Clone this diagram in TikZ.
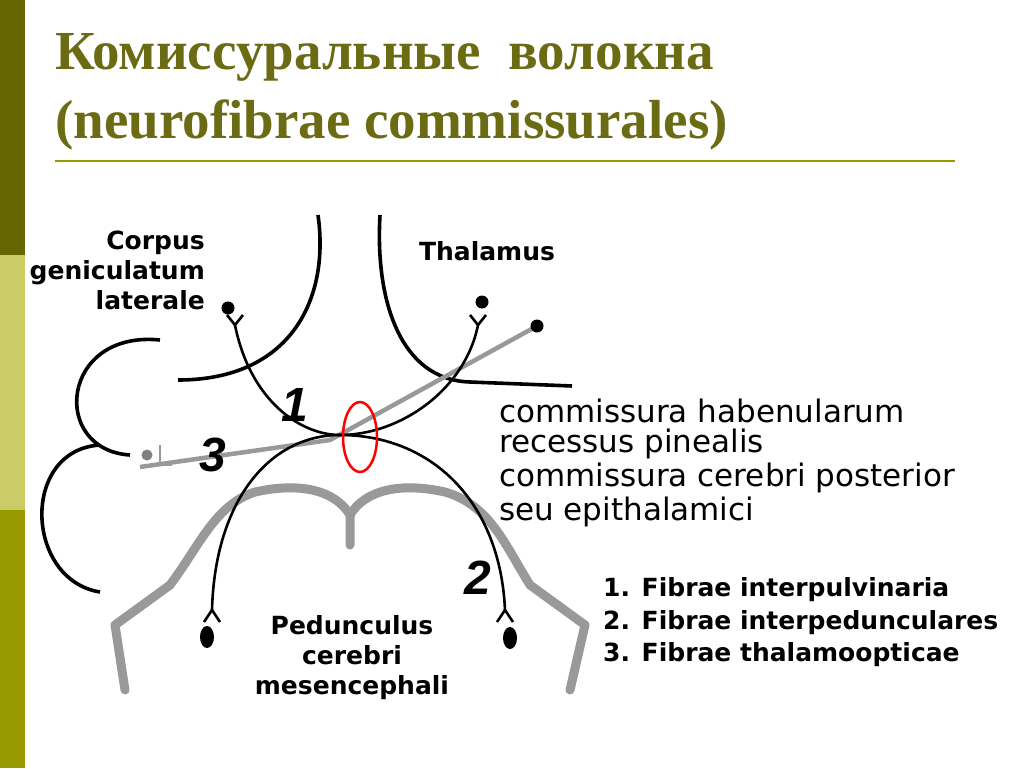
\documentclass[tikz,border=0pt]{standalone}
\usepackage{fontspec}
\usetikzlibrary{shapes.geometric}
\setmainfont{Liberation Serif}
\newfontfamily\lab{DejaVu Sans}
\newfontfamily\num{Liberation Sans}
\definecolor{olive}{HTML}{666600}
\definecolor{oliveB}{HTML}{999900}
\definecolor{oliveC}{HTML}{CCCC66}
\definecolor{titlec}{HTML}{6B6B14}
\definecolor{fgray}{HTML}{999999}
\tikzset{
 lbl/.style={font=\lab\bfseries\fontsize{25}{30}\selectfont, inner sep=0pt},
 txt/.style={font=\lab\fontsize{31}{34}\selectfont, anchor=west, inner sep=0pt},
 lst/.style={font=\lab\bfseries\fontsize{25}{30}\selectfont, anchor=west, inner sep=0pt},
 nmb/.style={font=\num\bfseries\itshape\fontsize{48}{48}\selectfont, inner sep=0pt},
 ttl/.style={anchor=west, text=titlec, font=\bfseries\fontsize{55}{60}\selectfont, inner sep=0pt},
 fib/.style={black, line width=2.6pt},
 arcb/.style={black, line width=3.6pt},
 grayf/.style={fgray, line width=9pt, line join=round, line cap=round},
 dot/.style={circle, fill=black, inner sep=0pt, minimum size=13pt}
}
\begin{document}
\begin{tikzpicture}[x=1pt,y=-1pt]
\useasboundingbox (0,0) rectangle (1024,768);
\fill[olive] (0,0) rectangle (25,255);
\fill[oliveC] (0,255) rectangle (25,510);
\fill[oliveB] (0,510) rectangle (25,768);
\node[ttl] (t1) at (55,57) {Комиссуральные\ \ волокна};
\node[ttl] (t2) at (55,125) {(neurofibrae commissurales)};
\draw[oliveB, line width=2pt] (55,161) -- (955,161);

% gray pedunculus outline
\draw[grayf] (125,690) -- (115,625) -- (170,585) .. controls (200,545) and (215,505) .. (255,492)
  .. controls (300,482) and (335,490) .. (350,515) -- (350,545);
\draw[grayf] (350,515) .. controls (365,490) and (400,482) .. (445,492)
  .. controls (490,505) and (505,545) .. (530,585) -- (585,625) -- (570,690);
% thalamus arcs
\draw[arcb] (318,215) .. controls (330,300) and (290,380) .. (178,380);
\draw[arcb] (380,215) .. controls (375,300) and (400,380) .. (470,382) -- (572,386);
% C shapes
\draw[arcb] (160,340) .. controls (60,330) and (50,450) .. (130,455);
\draw[arcb] (100,445) .. controls (20,450) and (25,580) .. (100,592);
% fibre 3
\draw[fgray, line width=4.5pt] (140,467) -- (330,440) -- (537,326);
\node[dot] (d3) at (537,326) {};
\node[circle, fill=gray, inner sep=0pt, minimum size=11pt] (d3b) at (147,455) {};
\draw[fgray, line width=2pt] (160,445) -- (160,465) (160,465) -- (172,465);
% fibre 1
\draw[fib] (235,325) .. controls (250,400) and (300,435) .. (340,435) .. controls (400,435) and (465,390) .. (478,325);
\draw[fib] (227,315) -- (235,325) -- (243,315);
\draw[fib] (470,315) -- (478,325) -- (486,315);
\node[dot] (d1a) at (228,308) {};
\node[dot] (d1b) at (482,302) {};
% fibre 2
\draw[fib] (212,610) .. controls (215,500) and (270,435) .. (340,435) .. controls (430,435) and (500,500) .. (505,610);
\draw[fib] (204,622) -- (212,610) -- (220,622);
\draw[fib] (497,622) -- (505,610) -- (513,622);
\node[ellipse, fill=black, inner sep=0pt, minimum width=14pt, minimum height=22pt] (d2a) at (207,637) {};
\node[ellipse, fill=black, inner sep=0pt, minimum width=14pt, minimum height=22pt] (d2b) at (510,638) {};
% red ellipse
\draw[red, line width=2.5pt] (360,437) ellipse [x radius=17, y radius=35];
% numbers
\node[nmb] (n1) at (295,405) {1};
\node[nmb] (n2) at (478,578) {2};
\node[nmb] (n3) at (213,455) {3};
% labels
\node[lbl, align=right, anchor=east] (cg) at (205,270) {Corpus\\geniculatum\\laterale};
\node[lbl] (th) at (487,251) {Thalamus};
\node[lbl, align=center] (pc) at (352,658) {Pedunculus\\cerebri\\mesencephali};
\node[txt] (a1) at (499,411) {commissura habenularum};
\node[txt] (a2) at (499,444) {recessus pinealis};
\node[txt] (a3) at (499,478) {commissura cerebri posterior};
\node[txt] (a4) at (499,512) {seu epithalamici};
\node[lst] (l1) at (603,590) {1. Fibrae interpulvinaria};
\node[lst] (l2) at (603,623) {2. Fibrae interpedunculares};
\node[lst] (l3) at (603,655) {3. Fibrae thalamoopticae};
\end{tikzpicture}
\end{document}
